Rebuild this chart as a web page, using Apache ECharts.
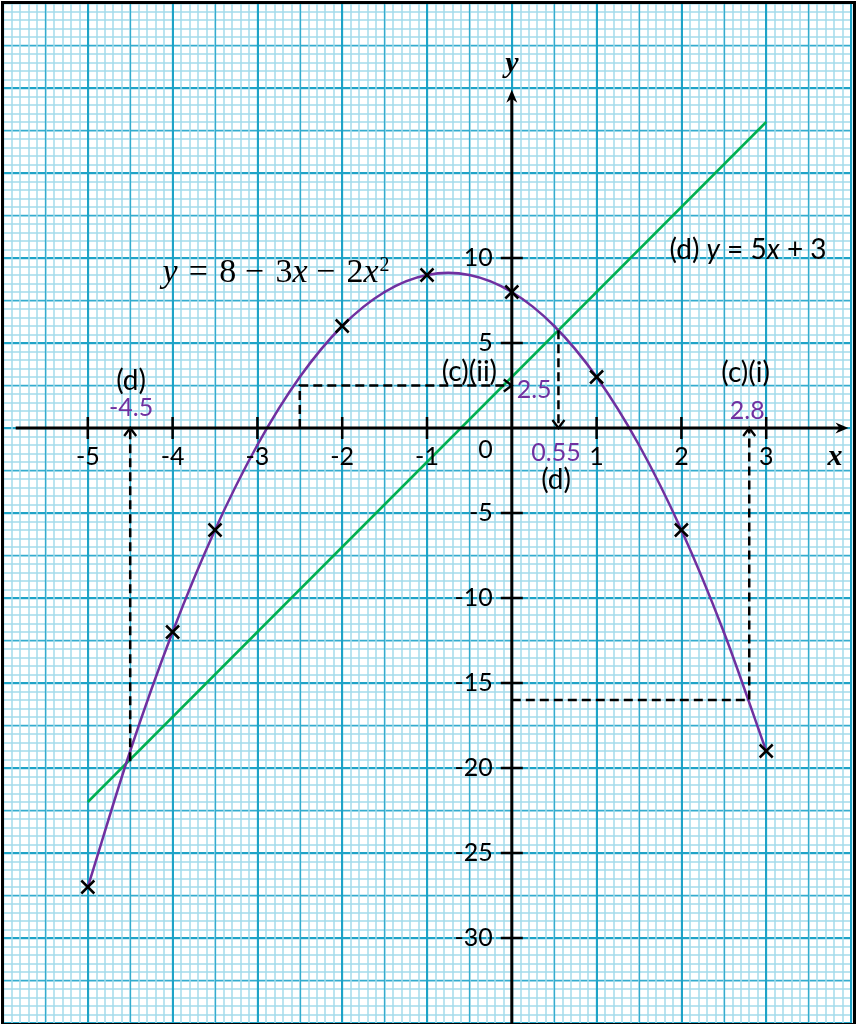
<!DOCTYPE html>
<html><head><meta charset="utf-8">
<script src="https://cdn.jsdelivr.net/npm/echarts@6/dist/echarts.min.js"></script>
<style>html,body{margin:0;padding:0;background:#fff}#c{width:863px;height:1024px}</style>
</head><body><div id="c"></div>
<script>
// ---------- data ----------
const X_MIN = -6, X_MAX = 4, Y_MIN = -35, Y_MAX = 25;
// table points (crosses) for y = 8 - 3x - 2x^2
const tableX = [-5, -4, -3.5, -2, -1, 0, 1, 2, 3];
const tableY = [-27, -12, -6, 6, 9, 8, 3, -6, -19];
// points
const curveX = [-5, -4.5, -4, -3.5, -3, -2.5, -2, -1.5, -1, -0.5, 0, 0.5, 1, 1.5, 2, 2.5, 3];
const curveY = [-27, -19, -12, -6, -1, 3, 6, 8, 9, 9, 8, 6, 3, -1, -6, -12, -19];
// straight line y = 5x + 3
const lineX = [-5, 3];
const lineY = [-22, 18];
// axis ticks
const xTicks = [-5, -4, -3, -2, -1, 1, 2, 3];
const xTickLabels = ['-5', '-4', '-3', '-2', '-1', '1', '2', '3'];
const yTicks = [10, 5, -5, -10, -15, -20, -25, -30];
const yTickLabels = ['10', '5', '-5', '-10', '-15', '-20', '-25', '-30'];
// axis extents (data units)
const xAxisSpan = [-5.85, 3.97];
const yAxisSpan = [-35, 19.9];
// dashed reading guides (arrow at last point)
const guideCii = [[-2.5, 0], [-2.5, 2.5], [0, 2.5]];
const guideCi = [[0, -16], [2.8, -16], [2.8, 0]];
const guideD1 = [[0.55, 5.75], [0.55, 0]];
const guideD2 = [[-4.5, -19.6], [-4.5, 0]];
const guides = [guideCii, guideCi, guideD1, guideD2];
// annotation texts and anchors
const annoText = ['(d)', '-4.5', '(c)(ii)', '2.5', '0.55', '(d)', '(c)(i)', '2.8', '0'];
const annoX = [-4.49, -4.49, -0.5, 0.263, 0.522, 0.522, 2.758, 2.776, -0.31];
const annoY = [2.76, 1.18, 3.3, 2.24, -1.47, -3.06, 3.24, 1.0, -1.29];
const annoPurple = [false, true, false, true, true, false, false, true, false];
const formulaAnchor = [-4.12, 9.1];
const lineLabelAnchor = [1.86, 10.5];
const xNameAnchor = [3.81, -1.7];
const yNameAnchor = [0, 21.4];

// ---------- styles ----------
const PURPLE = '#7030A0', GREEN = '#00B050', INK = '#000';
const SANS = 'Lato, "Open Sans", sans-serif';
const SERIF = '"Liberation Serif", "DejaVu Serif", serif';
const NUM_SIZE = 25, WORD_SIZE = 28, MATH_SIZE = 34;

function gridAxis(min, max, interval, color, width) {
  return {
    type: 'value', min, max, interval,
    axisLine: { show: false }, axisTick: { show: false }, axisLabel: { show: false },
    splitLine: { show: true, lineStyle: { color, width } }
  };
}

const chart = echarts.init(document.getElementById('c'), null, { renderer: 'canvas' });

function chevron(pts) {
  const a = pts[pts.length - 2], b = pts[pts.length - 1];
  let dx = b[0] - a[0], dy = b[1] - a[1];
  const len = Math.hypot(dx, dy) || 1; dx /= len; dy /= len;
  const nx = -dy, ny = dx, L = 8, W = 6;
  return [[b[0] - dx * L + nx * W, b[1] - dy * L + ny * W], [b[0], b[1]], [b[0] - dx * L - nx * W, b[1] - dy * L - ny * W]];
}
function arrowHead(tip, dx, dy) {
  const nx = -dy, ny = dx, L = 13, W = 5.5, N = 9;
  return [tip, [tip[0] - dx * L + nx * W, tip[1] - dy * L + ny * W], [tip[0] - dx * N, tip[1] - dy * N], [tip[0] - dx * L - nx * W, tip[1] - dy * L - ny * W]];
}

const curveData = curveX.map((x, i) => [x, curveY[i]]);

const option = {
  animation: false,
  backgroundColor: '#fff',
  grid: { left: 3, top: 3, width: 848, height: 1020, show: false, outerBoundsMode: 'none', containLabel: false },
  xAxis: [
    gridAxis(X_MIN, X_MAX, 0.1, '#a3dbeb', 1.5),
    gridAxis(X_MIN, X_MAX, 0.5, '#34acce', 1.3),
    gridAxis(X_MIN, X_MAX, 1, '#1ea3c7', 2)
  ],
  yAxis: [
    gridAxis(Y_MIN, Y_MAX, 0.5, '#a3dbeb', 1.5),
    gridAxis(Y_MIN, Y_MAX, 2.5, '#34acce', 1.3),
    gridAxis(Y_MIN, Y_MAX, 5, '#1ea3c7', 2)
  ],
  graphic: [{
    type: 'rect', left: 0, top: 0, z: 100, silent: true,
    shape: { width: 852, height: 1022 },
    style: { fill: 'none', stroke: '#000', lineWidth: 3 }
  }],
  series: [
    {
      name: 'line', type: 'line', z: 4,
      data: lineX.map((x, i) => [x, lineY[i]]),
      showSymbol: false, lineStyle: { color: GREEN, width: 2.5 }
    },
    {
      // smooth curve through the read points (Catmull-Rom -> cubic Bezier in pixel space)
      name: 'curve', type: 'custom', z: 5, clip: false,
      data: curveData,
      renderItem: (params, api) => {
        const i = params.dataIndex, n = curveData.length;
        if (i >= n - 1) return null;
        const P = k => api.coord(curveData[Math.max(0, Math.min(n - 1, k))]);
        const p1 = P(i), p2 = P(i + 1);
        const p0 = i === 0 ? [2 * p1[0] - p2[0], 2 * p1[1] - p2[1]] : P(i - 1);
        const p3 = i + 2 > n - 1 ? [2 * p2[0] - p1[0], 2 * p2[1] - p1[1]] : P(i + 2);
        return {
          type: 'bezierCurve',
          shape: {
            x1: p1[0], y1: p1[1], x2: p2[0], y2: p2[1],
            cpx1: p1[0] + (p2[0] - p0[0]) / 6, cpy1: p1[1] + (p2[1] - p0[1]) / 6,
            cpx2: p2[0] - (p3[0] - p1[0]) / 6, cpy2: p2[1] - (p3[1] - p1[1]) / 6
          },
          style: { fill: 'none', stroke: PURPLE, lineWidth: 2.5, lineCap: 'round' }
        };
      }
    },
    {
      name: 'guides', type: 'custom', z: 6, clip: false,
      data: guides.map(g => g[0]),
      renderItem: (params, api) => {
        const pts = guides[params.dataIndex].map(p => api.coord(p));
        return {
          type: 'group', children: [
            { type: 'polyline', shape: { points: pts }, style: { fill: 'none', stroke: INK, lineWidth: 2.5, lineDash: [9, 5] } },
            { type: 'polyline', shape: { points: chevron(pts) }, style: { fill: 'none', stroke: INK, lineWidth: 2.3 } }
          ]
        };
      }
    },
    {
      name: 'axes', type: 'custom', z: 7, clip: false,
      data: [[0, 0]],
      renderItem: (params, api) => {
        const xa = api.coord([xAxisSpan[0], 0]), xb = api.coord([xAxisSpan[1], 0]);
        const ya = api.coord([0, yAxisSpan[0]]), yb = api.coord([0, yAxisSpan[1]]);
        return {
          type: 'group', children: [
            { type: 'line', shape: { x1: xa[0], y1: xa[1], x2: xb[0] - 6, y2: xb[1] }, style: { stroke: INK, lineWidth: 3 } },
            { type: 'line', shape: { x1: ya[0], y1: ya[1], x2: yb[0], y2: yb[1] + 6 }, style: { stroke: INK, lineWidth: 3 } },
            { type: 'polygon', shape: { points: arrowHead(xb, 1, 0) }, style: { fill: INK } },
            { type: 'polygon', shape: { points: arrowHead(yb, 0, -1) }, style: { fill: INK } }
          ]
        };
      }
    },
    {
      name: 'xticks', type: 'custom', z: 7, clip: false,
      data: xTicks.map(v => [v, 0]),
      renderItem: (params, api) => {
        const p = api.coord([api.value(0), 0]);
        return {
          type: 'group', children: [
            { type: 'line', shape: { x1: p[0], y1: p[1] - 11, x2: p[0], y2: p[1] + 11 }, style: { stroke: INK, lineWidth: 2.5 } },
            { type: 'text', x: p[0], y: p[1] + 29, style: { text: xTickLabels[params.dataIndex], fill: INK, fontFamily: SANS, fontSize: NUM_SIZE, align: 'center', verticalAlign: 'middle' } }
          ]
        };
      }
    },
    {
      name: 'yticks', type: 'custom', z: 7, clip: false,
      data: yTicks.map(v => [0, v]),
      renderItem: (params, api) => {
        const p = api.coord([0, api.value(1)]);
        return {
          type: 'group', children: [
            { type: 'line', shape: { x1: p[0] - 11, y1: p[1], x2: p[0] + 11, y2: p[1] }, style: { stroke: INK, lineWidth: 2.5 } },
            { type: 'text', x: p[0] - 19, y: p[1], style: { text: yTickLabels[params.dataIndex], fill: INK, fontFamily: SANS, fontSize: NUM_SIZE, align: 'right', verticalAlign: 'middle' } }
          ]
        };
      }
    },
    {
      name: 'crosses', type: 'custom', z: 8, clip: false,
      data: tableX.map((x, i) => [x, tableY[i]]),
      renderItem: (params, api) => {
        const p = api.coord([api.value(0), api.value(1)]), s = 6.5;
        return {
          type: 'group', children: [
            { type: 'line', shape: { x1: p[0] - s, y1: p[1] - s, x2: p[0] + s, y2: p[1] + s }, style: { stroke: INK, lineWidth: 2.5 } },
            { type: 'line', shape: { x1: p[0] - s, y1: p[1] + s, x2: p[0] + s, y2: p[1] - s }, style: { stroke: INK, lineWidth: 2.5 } }
          ]
        };
      }
    },
    {
      name: 'annotations', type: 'custom', z: 9, clip: false,
      data: annoX.map((x, i) => [x, annoY[i]]),
      renderItem: (params, api) => {
        const i = params.dataIndex;
        const p = api.coord([annoX[i], annoY[i]]);
        const isWord = /[a-z]/.test(annoText[i]);
        return { type: 'text', x: p[0], y: p[1], style: { text: annoText[i], fill: annoPurple[i] ? PURPLE : INK, fontFamily: SANS, fontSize: isWord ? WORD_SIZE : NUM_SIZE, align: 'center', verticalAlign: 'middle' } };
      }
    },
    {
      name: 'titles', type: 'custom', z: 9, clip: false,
      data: [formulaAnchor],
      renderItem: (params, api) => {
        const f = api.coord(formulaAnchor), l = api.coord(lineLabelAnchor);
        const xn = api.coord(xNameAnchor), yn = api.coord(yNameAnchor);
        return {
          type: 'group', children: [
            {
              type: 'text', x: f[0], y: f[1], style: {
                text: '{i|y}{n|\u2004=\u20048\u2005\u2212\u20043}{i|x}{n|\u2005\u2212\u20042}{i|x}{s|2}',
                align: 'left', verticalAlign: 'middle',
                rich: {
                  i: { fontFamily: SERIF, fontStyle: 'italic', fontSize: MATH_SIZE, fill: INK, lineHeight: 36 },
                  n: { fontFamily: SERIF, fontSize: MATH_SIZE, fill: INK, lineHeight: 36 },
                  s: { fontFamily: SERIF, fontSize: 20, fill: INK, verticalAlign: 'top', lineHeight: 36, padding: [0, 0, 0, 1] }
                }
              }
            },
            {
              type: 'text', x: l[0], y: l[1], style: {
                text: '{n|(d) }{i|y}{n| = 5}{i|x}{n| + 3}',
                align: 'left', verticalAlign: 'middle',
                rich: {
                  n: { fontFamily: SANS, fontSize: WORD_SIZE, fill: INK },
                  i: { fontFamily: SANS, fontStyle: 'italic', fontSize: WORD_SIZE, fill: INK }
                }
              }
            },
            { type: 'text', x: xn[0], y: xn[1], style: { text: 'x', fill: INK, fontFamily: SERIF, fontStyle: 'italic', fontWeight: 'bold', fontSize: 30, align: 'center', verticalAlign: 'middle' } },
            { type: 'text', x: yn[0], y: yn[1], style: { text: 'y', fill: INK, fontFamily: SERIF, fontStyle: 'italic', fontWeight: 'bold', fontSize: 30, align: 'center', verticalAlign: 'middle' } }
          ]
        };
      }
    }
  ]
};
chart.setOption(option);
</script>
</body></html>
